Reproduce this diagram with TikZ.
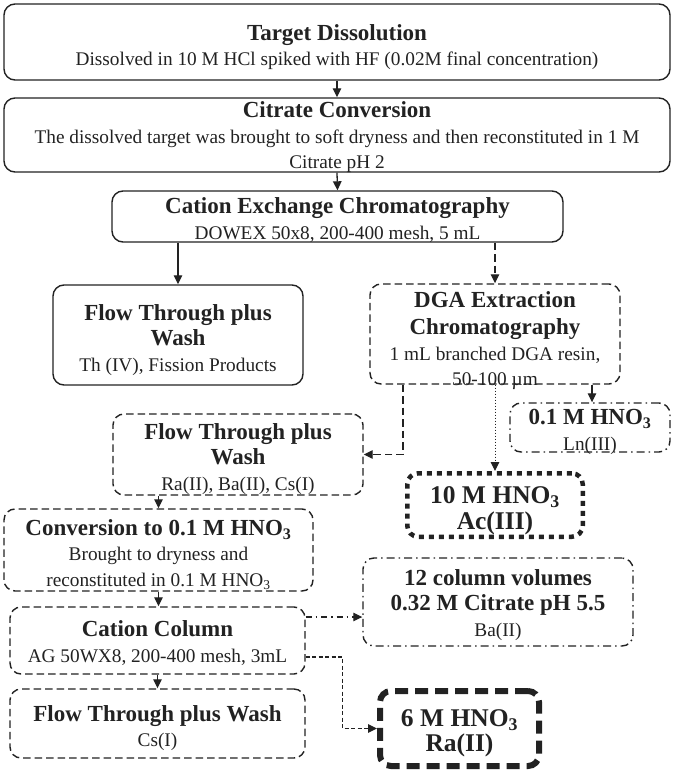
\documentclass[tikz,border=0pt]{standalone}
\usepackage{fontspec}
\setmainfont{Liberation Serif}
\usetikzlibrary{arrows.meta}
\definecolor{ink}{RGB}{34,34,34}
\newcommand\ttlfont{\fontsize{23}{25.5}\selectfont\bfseries}
\newcommand\bigfont{\fontsize{25.5}{30}\selectfont\bfseries}
\newcommand\bdyfont{\fontsize{19.3}{25.5}\selectfont}
% #1 style, #2 name, #3 centre, #4 width, #5 height, #6 text shift down, #7 text
\newcommand\flowbox[7]{%
  \node[#1, minimum width=#4, minimum height=#5] (#2) at #3 {};
  \node[txt] (#2-t) at ([yshift=-#6]#2.center) {#7};}
\begin{document}
\begin{tikzpicture}[x=1pt,y=-1pt,
  box/.style={rounded corners=11pt, inner sep=0pt, line width=1.4pt, draw=ink},
  txt/.style={align=center, inner sep=0pt, text=ink, font=\bdyfont},
  solidb/.style={box},
  dashb/.style={box, dash pattern=on 7.5pt off 4pt},
  dashdotb/.style={box, dash pattern=on 8pt off 4pt on 1.5pt off 4pt},
  dotb/.style={box, line width=4.5pt, dash pattern=on 5pt off 5pt},
  thickdashb/.style={box, line width=6pt, dash pattern=on 13pt off 7pt},
  arr/.style={-{Triangle[length=9pt,width=8.5pt]}, line width=1.3pt, draw=ink},
  dasharr/.style={arr, dash pattern=on 7.5pt off 4pt},
  dotarr/.style={arr, line width=1pt, dash pattern=on 1.5pt off 1.5pt},
  dashdotarr/.style={arr, line width=1.2pt, dash pattern=on 6pt off 4pt on 1.5pt off 4pt},
  finearr/.style={arr, line width=1.2pt, dash pattern=on 4pt off 2.5pt}
]
\useasboundingbox[fill=white] (0,0) rectangle (675,771);

\flowbox{solidb}{b1}{(337,42)}{666pt}{76pt}{5pt}
  {{\ttlfont Target Dissolution}\\ Dissolved in 10 M HCl spiked with HF (0.02M final concentration)}
\flowbox{solidb}{b2}{(337,135)}{666pt}{74pt}{2.5pt}
  {{\ttlfont Citrate Conversion}\\ The dissolved target was brought to soft dryness and then reconstituted in 1 M\\ Citrate pH 2}
\flowbox{solidb}{b3}{(337.5,216.5)}{451pt}{51pt}{3.5pt}
  {{\ttlfont Cation Exchange Chromatography}\\ DOWEX 50x8, 200-400 mesh, 5 mL}
\flowbox{solidb}{f1}{(178,335)}{250pt}{100pt}{5pt}
  {{\ttlfont Flow Through plus}\\ {\ttlfont Wash}\\ Th (IV), Fission Products}
\flowbox{dashb}{dga}{(495,334)}{250pt}{100pt}{7pt}
  {{\ttlfont DGA Extraction}\\[1.5pt] {\ttlfont Chromatography}\\ 1 mL branched DGA resin,\\ 50-100 µm}
\flowbox{dashb}{f2}{(238,454.5)}{250pt}{81pt}{4.5pt}
  {{\ttlfont Flow Through plus}\\ {\ttlfont Wash}\\ Ra(II), Ba(II), Cs(I)}
\flowbox{dashdotb}{ln}{(590,427.5)}{160pt}{49pt}{4.5pt}
  {{\ttlfont 0.1 M HNO\textsubscript{3}}\\ Ln(III)}
\flowbox{dotb}{ac}{(495,505)}{175.5pt}{63.5pt}{5.5pt}
  {{\bigfont 10 M HNO\textsubscript{3}}\\ {\bigfont Ac(III)}}
\flowbox{dashb}{conv}{(158.5,550)}{309pt}{82pt}{4.5pt}
  {{\ttlfont Conversion to 0.1 M HNO\textsubscript{3}}\\ Brought to dryness and\\ reconstituted in 0.1 M HNO\textsubscript{3}}
\flowbox{dashdotb}{bac}{(498,602)}{270pt}{88pt}{3pt}
  {{\ttlfont 12 column volumes}\\ {\ttlfont 0.32 M Citrate pH 5.5}\\ Ba(II)}
\flowbox{dashb}{cat}{(157.5,640.5)}{295pt}{67pt}{2.5pt}
  {{\ttlfont Cation Column}\\ AG 50WX8, 200-400 mesh, 3mL}
\flowbox{dashb}{f3}{(157.5,723.5)}{295pt}{69pt}{4.5pt}
  {{\ttlfont Flow Through plus Wash}\\ Cs(I)}
\flowbox{thickdashb}{ra}{(459.5,728.5)}{159pt}{75pt}{5pt}
  {{\bigfont 6 M HNO\textsubscript{3}}\\ {\bigfont Ra(II)}}

\draw[arr] (b1.south) -- (b2.north);
\draw[arr] (b2.south) -- (b3.north);
\draw[arr] (b3.south -| f1.north) -- (f1.north);
\draw[dasharr] (b3.south -| dga.north) -- (dga.north);
\draw[dasharr] ([xshift=-92pt]dga.south) |- (f2.east);
\draw[dotarr] (dga.south) -- (ac.north);
\draw[arr] ([xshift=2pt]dga.south -| ln.north) -- ([xshift=2pt]ln.north);
\draw[arr] (f2.south -| conv.north) -- (conv.north);
\draw[arr] (conv.south) -- (conv.south |- cat.north);
\draw[arr] (cat.south) -- (f3.north);
\draw[dashdotarr] ([yshift=23.5pt]cat.east) -- ([yshift=-15pt]bac.west);
\draw[finearr] ([yshift=-16.5pt]cat.east) -- ++(37,0) |- (ra.west);
\end{tikzpicture}
\end{document}
